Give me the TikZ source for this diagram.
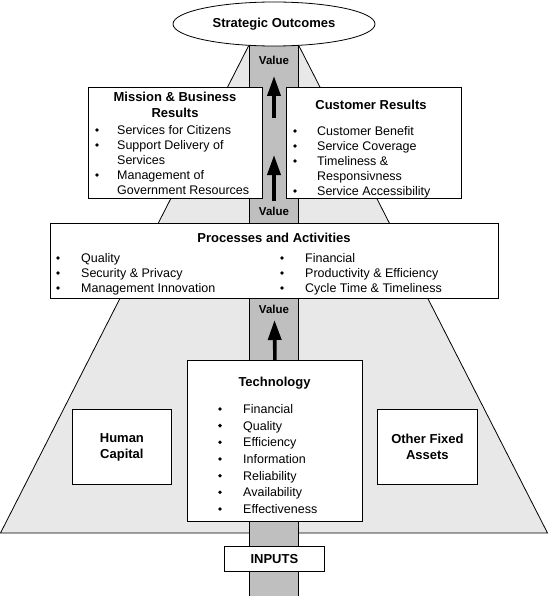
\documentclass[tikz,border=0pt]{standalone}
\usepackage{fontspec}
\setmainfont{Liberation Sans}
\usetikzlibrary{shapes.geometric,arrows.meta}
\definecolor{trap}{gray}{0.91}
\definecolor{barg}{gray}{0.75}
\tikzset{
  box/.style={draw, fill=white, line width=0.8pt, inner sep=0, anchor=north west},
  bt/.style={font=\fontsize{13}{16}\selectfont\bfseries, align=center, inner sep=0},
  it/.style={font=\fontsize{12.5}{15}\selectfont, anchor=base west, inner sep=0},
  dot/.style={circle, fill=black, inner sep=0, minimum size=3.8pt},
  val/.style={font=\fontsize{11.5}{13}\selectfont\bfseries, inner sep=0},
  up/.style={line width=3.6pt, -{Triangle[width=13pt,length=20pt]}}
}
\begin{document}
\begin{tikzpicture}[x=1pt,y=-1pt]
\useasboundingbox (0,0) rectangle (548,596);
% trapezoid
\fill[trap] (249,45) -- (0.5,533) -- (547.5,533) -- (298.5,45) -- cycle;
\draw[line width=0.8pt] (249,45) -- (0.5,533) -- (547.5,533) -- (298.5,45);
% value bar
\draw[line width=0.8pt, fill=barg] (249,35) rectangle (298.5,597);
% ellipse
\node[draw, fill=white, ellipse, line width=0.8pt, minimum width=202pt, minimum height=44pt, bt] (so) at (274,24) {Strategic Outcomes};
% value labels
\node[val] (v1) at (274,60) {Value};
\node[val] (v2) at (274,211) {Value};
\node[val] (v3) at (274,309) {Value};
% boxes
\node[box, minimum width=174pt, minimum height=111pt] (mission) at (88,87) {};
\node[box, minimum width=175pt, minimum height=111pt] (cust) at (286,87) {};
\node[box, minimum width=448pt, minimum height=75pt] (proc) at (50,223) {};
\node[box, minimum width=175pt, minimum height=161pt] (tech) at (187,360) {};
\node[box, minimum width=99pt, minimum height=75pt] (hc) at (72,409) {};
\node[box, minimum width=100pt, minimum height=75pt] (ofa) at (377,409) {};
\node[box, minimum width=100pt, minimum height=25pt] (inp) at (224,546) {};
% titles
\node[bt] (mt) at (175,105) {Mission \& Business\\Results};
\node[bt] (ct) at (371,105) {Customer Results};
\node[bt] (pt) at (274,238) {Processes and Activities};
\node[bt] (tt) at (274.5,383) {Technology};
\node[bt] (ht) at (hc.center) {Human\\Capital};
\node[bt] (ot) at (ofa.center) {Other Fixed\\Assets};
\node[bt] (it) at (inp.center) {INPUTS};
% mission items
\foreach \t [count=\i] in {Services for Citizens, Support Delivery of, Services, Management of, Government Resources}
  \node[it] (mi\i) at (117,{115+15*\i+4.5}) {\t};
\foreach \i in {1,2,4}
  \node[dot] (md\i) at (97,{115+15*\i}) {};
% customer items
\foreach \t [count=\i] in {Customer Benefit, Service Coverage, Timeliness \&, Responsivness, Service Accessibility}
  \node[it] (ci\i) at (317,{116+15*\i+4.5}) {\t};
\foreach \i in {1,2,3,5}
  \node[dot] (cd\i) at (295,{116+15*\i}) {};
% process items
\foreach \t [count=\i] in {Quality, Security \& Privacy, Management Innovation}
  {\node[it] (pl\i) at (81,{243+15*\i+4.5}) {\t};
   \node[dot] (pld\i) at (58,{243+15*\i}) {};}
\foreach \t [count=\i] in {Financial, Productivity \& Efficiency, Cycle Time \& Timeliness}
  {\node[it] (pr\i) at (305,{243+15*\i+4.5}) {\t};
   \node[dot] (prd\i) at (282,{243+15*\i}) {};}
% technology items
\foreach \t [count=\i] in {Financial, Quality, Efficiency, Information, Reliability, Availability, Effectiveness}
  {\node[it] (ti\i) at (243,{392.3+16.67*\i+4.5}) {\t};
   \node[dot] (td\i) at (220,{392.3+16.67*\i}) {};}
% arrows
\coordinate (a1s) at (274,118);
\coordinate (a1e) at (274,76);
\coordinate (a2s) at (274,201);
\coordinate (a2e) at (274,155);
\coordinate (a3e) at (274.5,320);
\draw[up] (a1s) -- (a1e);
\draw[up] (a2s) -- (a2e);
\draw[up] (tech.north) -- (a3e);
\end{tikzpicture}
\end{document}
